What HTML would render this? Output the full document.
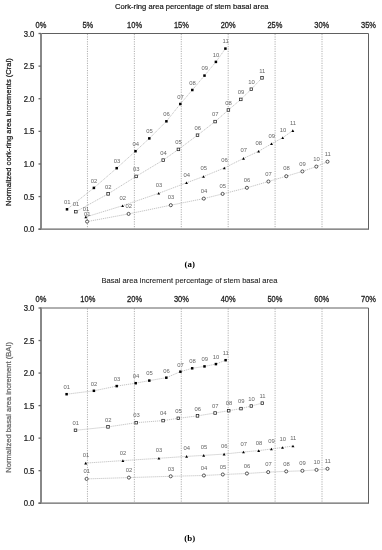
<!DOCTYPE html>
<html><head><meta charset="utf-8"><style>
html,body{margin:0;padding:0;background:#fff;}
body{width:382px;height:550px;overflow:hidden;}
svg{display:block;}
text{font-family:"Liberation Sans",Arial,sans-serif;}
.t{font-size:8.1px;fill:#111;stroke:#111;stroke-width:0.18px;}
.t2{font-size:8.1px;fill:#222;stroke:#222;stroke-width:0.1px;}
.xl{font-size:8.8px;fill:#222;stroke:#222;stroke-width:0.3px;}
.yl{font-size:8.6px;fill:#222;stroke:#222;stroke-width:0.25px;}
.ylab{font-size:7.6px;stroke-width:0.25px;}
.pl{font-size:6.2px;fill:#666;}
.let{font-family:"Liberation Serif",serif;font-weight:bold;font-size:8.9px;fill:#000;}
.g{stroke:#b0b0b0;stroke-width:1;stroke-dasharray:1.2 1.2;}
.fr{stroke:#606060;stroke-width:1;fill:none;}
.ax{stroke:#666;stroke-width:1.3;}
.axl{stroke:#888;stroke-width:2;}
.sl{stroke:#aaa;stroke-width:0.7;stroke-dasharray:1.2 0.8;fill:none;}
</style></head><body>
<svg width="382" height="550" viewBox="0 0 382 550">
<text x="115" y="9.3" class="t" textLength="153.6" lengthAdjust="spacingAndGlyphs">Cork-ring area percentage of stem basal area</text>
<text transform="translate(41 27.7) scale(0.85 1)" class="xl" text-anchor="middle">0%</text>
<text transform="translate(87.79 27.7) scale(0.85 1)" class="xl" text-anchor="middle">5%</text>
<text transform="translate(134.57 27.7) scale(0.85 1)" class="xl" text-anchor="middle">10%</text>
<text transform="translate(181.36 27.7) scale(0.85 1)" class="xl" text-anchor="middle">15%</text>
<text transform="translate(228.14 27.7) scale(0.85 1)" class="xl" text-anchor="middle">20%</text>
<text transform="translate(274.93 27.7) scale(0.85 1)" class="xl" text-anchor="middle">25%</text>
<text transform="translate(321.71 27.7) scale(0.85 1)" class="xl" text-anchor="middle">30%</text>
<text transform="translate(368.5 27.7) scale(0.85 1)" class="xl" text-anchor="middle">35%</text>
<line x1="87.45" y1="34" x2="87.45" y2="228.6" class="g"/>
<line x1="134.36" y1="34" x2="134.36" y2="228.6" class="g"/>
<line x1="181.27" y1="34" x2="181.27" y2="228.6" class="g"/>
<line x1="228.18" y1="34" x2="228.18" y2="228.6" class="g"/>
<line x1="275.09" y1="34" x2="275.09" y2="228.6" class="g"/>
<line x1="322" y1="34" x2="322" y2="228.6" class="g"/>
<path d="M41 33.5H368.5V229.2" class="fr"/>
<line x1="38.5" y1="229.2" x2="369" y2="229.2" class="ax"/>
<line x1="41" y1="33" x2="41" y2="229.2" class="axl"/>
<line x1="38.5" y1="33.5" x2="41" y2="33.5" class="ax"/>
<text transform="translate(34.4 36.6) scale(0.9 1)" class="yl" text-anchor="end">3.0</text>
<line x1="38.5" y1="66.12" x2="41" y2="66.12" class="ax"/>
<text transform="translate(34.4 69.22) scale(0.9 1)" class="yl" text-anchor="end">2.5</text>
<line x1="38.5" y1="98.73" x2="41" y2="98.73" class="ax"/>
<text transform="translate(34.4 101.83) scale(0.9 1)" class="yl" text-anchor="end">2.0</text>
<line x1="38.5" y1="131.35" x2="41" y2="131.35" class="ax"/>
<text transform="translate(34.4 134.45) scale(0.9 1)" class="yl" text-anchor="end">1.5</text>
<line x1="38.5" y1="163.97" x2="41" y2="163.97" class="ax"/>
<text transform="translate(34.4 167.07) scale(0.9 1)" class="yl" text-anchor="end">1.0</text>
<line x1="38.5" y1="196.58" x2="41" y2="196.58" class="ax"/>
<text transform="translate(34.4 199.68) scale(0.9 1)" class="yl" text-anchor="end">0.5</text>
<line x1="38.5" y1="229.2" x2="41" y2="229.2" class="ax"/>
<text transform="translate(34.4 232.3) scale(0.9 1)" class="yl" text-anchor="end">0.0</text>
<text transform="translate(11.0 132.05) rotate(-90)" text-anchor="middle" class="ylab" fill="#1a1a1a" stroke="#1a1a1a">Normalized cork-ring area increments (Crai)</text>
<path d="M67 209.3 L93.9 187.9 L116.7 168.2 L135.5 151.2 L149.3 138.4 L166.4 121.3 L180.3 104 L192.3 90 L204.5 75.6 L215.9 61.9 L225.4 48.6" class="sl"/>
<path d="M75.9 211.7 L108.1 193.9 L136.1 176.4 L163.2 160.1 L178.4 149.4 L197.5 135.2 L215.1 121.6 L228.4 110 L240.8 99.4 L251.3 89.2 L262 77.9" class="sl"/>
<path d="M85.8 217 L122.6 205.7 L158.7 193.3 L186.5 182.8 L203.5 176.5 L224.3 168 L243.5 158.4 L258.6 151.3 L271.5 143.8 L282.7 137.7 L292.8 130.6" class="sl"/>
<path d="M87.1 221.6 L128.6 213.9 L170.8 205.2 L203.8 198.6 L222.6 193.9 L246.9 187.8 L268.4 181.5 L286.3 176.2 L302.4 171.4 L316.3 166.6 L327.5 161.7" class="sl"/>
<rect x="65.75" y="208.05" width="2.5" height="2.5" fill="#000"/>
<text transform="translate(67.2 204.1) scale(0.95 1)" class="pl" text-anchor="middle">01</text>
<rect x="92.65" y="186.65" width="2.5" height="2.5" fill="#000"/>
<text transform="translate(94.1 182.7) scale(0.95 1)" class="pl" text-anchor="middle">02</text>
<rect x="115.45" y="166.95" width="2.5" height="2.5" fill="#000"/>
<text transform="translate(116.9 163) scale(0.95 1)" class="pl" text-anchor="middle">03</text>
<rect x="134.25" y="149.95" width="2.5" height="2.5" fill="#000"/>
<text transform="translate(135.7 146) scale(0.95 1)" class="pl" text-anchor="middle">04</text>
<rect x="148.05" y="137.15" width="2.5" height="2.5" fill="#000"/>
<text transform="translate(149.5 133.2) scale(0.95 1)" class="pl" text-anchor="middle">05</text>
<rect x="165.15" y="120.05" width="2.5" height="2.5" fill="#000"/>
<text transform="translate(166.6 116.1) scale(0.95 1)" class="pl" text-anchor="middle">06</text>
<rect x="179.05" y="102.75" width="2.5" height="2.5" fill="#000"/>
<text transform="translate(180.5 98.8) scale(0.95 1)" class="pl" text-anchor="middle">07</text>
<rect x="191.05" y="88.75" width="2.5" height="2.5" fill="#000"/>
<text transform="translate(192.5 84.8) scale(0.95 1)" class="pl" text-anchor="middle">08</text>
<rect x="203.25" y="74.35" width="2.5" height="2.5" fill="#000"/>
<text transform="translate(204.7 70.4) scale(0.95 1)" class="pl" text-anchor="middle">09</text>
<rect x="214.65" y="60.65" width="2.5" height="2.5" fill="#000"/>
<text transform="translate(216.1 56.7) scale(0.95 1)" class="pl" text-anchor="middle">10</text>
<rect x="224.15" y="47.35" width="2.5" height="2.5" fill="#000"/>
<text transform="translate(225.6 43.4) scale(0.95 1)" class="pl" text-anchor="middle">11</text>
<rect x="74.62" y="210.42" width="2.55" height="2.55" fill="#fff" stroke="#222" stroke-width="0.75"/>
<text transform="translate(76.1 206.4) scale(0.95 1)" class="pl" text-anchor="middle">01</text>
<rect x="106.82" y="192.62" width="2.55" height="2.55" fill="#fff" stroke="#222" stroke-width="0.75"/>
<text transform="translate(108.3 188.6) scale(0.95 1)" class="pl" text-anchor="middle">02</text>
<rect x="134.82" y="175.12" width="2.55" height="2.55" fill="#fff" stroke="#222" stroke-width="0.75"/>
<text transform="translate(136.3 171.1) scale(0.95 1)" class="pl" text-anchor="middle">03</text>
<rect x="161.92" y="158.82" width="2.55" height="2.55" fill="#fff" stroke="#222" stroke-width="0.75"/>
<text transform="translate(163.4 154.8) scale(0.95 1)" class="pl" text-anchor="middle">04</text>
<rect x="177.12" y="148.12" width="2.55" height="2.55" fill="#fff" stroke="#222" stroke-width="0.75"/>
<text transform="translate(178.6 144.1) scale(0.95 1)" class="pl" text-anchor="middle">05</text>
<rect x="196.22" y="133.92" width="2.55" height="2.55" fill="#fff" stroke="#222" stroke-width="0.75"/>
<text transform="translate(197.7 129.9) scale(0.95 1)" class="pl" text-anchor="middle">06</text>
<rect x="213.82" y="120.32" width="2.55" height="2.55" fill="#fff" stroke="#222" stroke-width="0.75"/>
<text transform="translate(215.3 116.3) scale(0.95 1)" class="pl" text-anchor="middle">07</text>
<rect x="227.12" y="108.72" width="2.55" height="2.55" fill="#fff" stroke="#222" stroke-width="0.75"/>
<text transform="translate(228.6 104.7) scale(0.95 1)" class="pl" text-anchor="middle">08</text>
<rect x="239.53" y="98.12" width="2.55" height="2.55" fill="#fff" stroke="#222" stroke-width="0.75"/>
<text transform="translate(241 94.1) scale(0.95 1)" class="pl" text-anchor="middle">09</text>
<rect x="250.03" y="87.92" width="2.55" height="2.55" fill="#fff" stroke="#222" stroke-width="0.75"/>
<text transform="translate(251.5 83.9) scale(0.95 1)" class="pl" text-anchor="middle">10</text>
<rect x="260.73" y="76.62" width="2.55" height="2.55" fill="#fff" stroke="#222" stroke-width="0.75"/>
<text transform="translate(262.2 72.6) scale(0.95 1)" class="pl" text-anchor="middle">11</text>
<path d="M85.8 215.7L87.25 218.3L84.35 218.3Z" fill="#000"/>
<text transform="translate(86 210.9) scale(0.95 1)" class="pl" text-anchor="middle">01</text>
<path d="M122.6 204.4L124.05 207L121.15 207Z" fill="#000"/>
<text transform="translate(122.8 199.6) scale(0.95 1)" class="pl" text-anchor="middle">02</text>
<path d="M158.7 192L160.15 194.6L157.25 194.6Z" fill="#000"/>
<text transform="translate(158.9 187.2) scale(0.95 1)" class="pl" text-anchor="middle">03</text>
<path d="M186.5 181.5L187.95 184.1L185.05 184.1Z" fill="#000"/>
<text transform="translate(186.7 176.7) scale(0.95 1)" class="pl" text-anchor="middle">04</text>
<path d="M203.5 175.2L204.95 177.8L202.05 177.8Z" fill="#000"/>
<text transform="translate(203.7 170.4) scale(0.95 1)" class="pl" text-anchor="middle">05</text>
<path d="M224.3 166.7L225.75 169.3L222.85 169.3Z" fill="#000"/>
<text transform="translate(224.5 161.9) scale(0.95 1)" class="pl" text-anchor="middle">06</text>
<path d="M243.5 157.1L244.95 159.7L242.05 159.7Z" fill="#000"/>
<text transform="translate(243.7 152.3) scale(0.95 1)" class="pl" text-anchor="middle">07</text>
<path d="M258.6 150L260.05 152.6L257.15 152.6Z" fill="#000"/>
<text transform="translate(258.8 145.2) scale(0.95 1)" class="pl" text-anchor="middle">08</text>
<path d="M271.5 142.5L272.95 145.1L270.05 145.1Z" fill="#000"/>
<text transform="translate(271.7 137.7) scale(0.95 1)" class="pl" text-anchor="middle">09</text>
<path d="M282.7 136.4L284.15 139L281.25 139Z" fill="#000"/>
<text transform="translate(282.9 131.6) scale(0.95 1)" class="pl" text-anchor="middle">10</text>
<path d="M292.8 129.3L294.25 131.9L291.35 131.9Z" fill="#000"/>
<text transform="translate(293 124.5) scale(0.95 1)" class="pl" text-anchor="middle">11</text>
<circle cx="87.1" cy="221.6" r="1.55" fill="#fff" stroke="#222" stroke-width="0.75"/>
<text transform="translate(87.3 215.8) scale(0.95 1)" class="pl" text-anchor="middle">01</text>
<circle cx="128.6" cy="213.9" r="1.55" fill="#fff" stroke="#222" stroke-width="0.75"/>
<text transform="translate(128.8 208.1) scale(0.95 1)" class="pl" text-anchor="middle">02</text>
<circle cx="170.8" cy="205.2" r="1.55" fill="#fff" stroke="#222" stroke-width="0.75"/>
<text transform="translate(171 199.4) scale(0.95 1)" class="pl" text-anchor="middle">03</text>
<circle cx="203.8" cy="198.6" r="1.55" fill="#fff" stroke="#222" stroke-width="0.75"/>
<text transform="translate(204 192.8) scale(0.95 1)" class="pl" text-anchor="middle">04</text>
<circle cx="222.6" cy="193.9" r="1.55" fill="#fff" stroke="#222" stroke-width="0.75"/>
<text transform="translate(222.8 188.1) scale(0.95 1)" class="pl" text-anchor="middle">05</text>
<circle cx="246.9" cy="187.8" r="1.55" fill="#fff" stroke="#222" stroke-width="0.75"/>
<text transform="translate(247.1 182) scale(0.95 1)" class="pl" text-anchor="middle">06</text>
<circle cx="268.4" cy="181.5" r="1.55" fill="#fff" stroke="#222" stroke-width="0.75"/>
<text transform="translate(268.6 175.7) scale(0.95 1)" class="pl" text-anchor="middle">07</text>
<circle cx="286.3" cy="176.2" r="1.55" fill="#fff" stroke="#222" stroke-width="0.75"/>
<text transform="translate(286.5 170.4) scale(0.95 1)" class="pl" text-anchor="middle">08</text>
<circle cx="302.4" cy="171.4" r="1.55" fill="#fff" stroke="#222" stroke-width="0.75"/>
<text transform="translate(302.6 165.6) scale(0.95 1)" class="pl" text-anchor="middle">09</text>
<circle cx="316.3" cy="166.6" r="1.55" fill="#fff" stroke="#222" stroke-width="0.75"/>
<text transform="translate(316.5 160.8) scale(0.95 1)" class="pl" text-anchor="middle">10</text>
<circle cx="327.5" cy="161.7" r="1.55" fill="#fff" stroke="#222" stroke-width="0.75"/>
<text transform="translate(327.7 155.9) scale(0.95 1)" class="pl" text-anchor="middle">11</text>
<text x="189.8" y="266.8" class="let" text-anchor="middle">(a)</text>
<text x="101.5" y="283.1" class="t2" textLength="176" lengthAdjust="spacingAndGlyphs">Basal area increment percentage of stem basal area</text>
<text transform="translate(41 302.2) scale(0.85 1)" class="xl" text-anchor="middle">0%</text>
<text transform="translate(87.79 302.2) scale(0.85 1)" class="xl" text-anchor="middle">10%</text>
<text transform="translate(134.57 302.2) scale(0.85 1)" class="xl" text-anchor="middle">20%</text>
<text transform="translate(181.36 302.2) scale(0.85 1)" class="xl" text-anchor="middle">30%</text>
<text transform="translate(228.14 302.2) scale(0.85 1)" class="xl" text-anchor="middle">40%</text>
<text transform="translate(274.93 302.2) scale(0.85 1)" class="xl" text-anchor="middle">50%</text>
<text transform="translate(321.71 302.2) scale(0.85 1)" class="xl" text-anchor="middle">60%</text>
<text transform="translate(368.5 302.2) scale(0.85 1)" class="xl" text-anchor="middle">70%</text>
<line x1="87.45" y1="308.5" x2="87.45" y2="502.6" class="g"/>
<line x1="134.36" y1="308.5" x2="134.36" y2="502.6" class="g"/>
<line x1="181.27" y1="308.5" x2="181.27" y2="502.6" class="g"/>
<line x1="228.18" y1="308.5" x2="228.18" y2="502.6" class="g"/>
<line x1="275.09" y1="308.5" x2="275.09" y2="502.6" class="g"/>
<line x1="322" y1="308.5" x2="322" y2="502.6" class="g"/>
<path d="M41 308H368.5V503.2" class="fr"/>
<line x1="38.5" y1="503.2" x2="369" y2="503.2" class="ax"/>
<line x1="41" y1="307.5" x2="41" y2="503.2" class="axl"/>
<line x1="38.5" y1="308" x2="41" y2="308" class="ax"/>
<text transform="translate(34.4 311.1) scale(0.9 1)" class="yl" text-anchor="end">3.0</text>
<line x1="38.5" y1="340.53" x2="41" y2="340.53" class="ax"/>
<text transform="translate(34.4 343.63) scale(0.9 1)" class="yl" text-anchor="end">2.5</text>
<line x1="38.5" y1="373.07" x2="41" y2="373.07" class="ax"/>
<text transform="translate(34.4 376.17) scale(0.9 1)" class="yl" text-anchor="end">2.0</text>
<line x1="38.5" y1="405.6" x2="41" y2="405.6" class="ax"/>
<text transform="translate(34.4 408.7) scale(0.9 1)" class="yl" text-anchor="end">1.5</text>
<line x1="38.5" y1="438.13" x2="41" y2="438.13" class="ax"/>
<text transform="translate(34.4 441.23) scale(0.9 1)" class="yl" text-anchor="end">1.0</text>
<line x1="38.5" y1="470.67" x2="41" y2="470.67" class="ax"/>
<text transform="translate(34.4 473.77) scale(0.9 1)" class="yl" text-anchor="end">0.5</text>
<line x1="38.5" y1="503.2" x2="41" y2="503.2" class="ax"/>
<text transform="translate(34.4 506.3) scale(0.9 1)" class="yl" text-anchor="end">0.0</text>
<text transform="translate(11.0 407.35) rotate(-90)" text-anchor="middle" class="ylab" fill="#6a6a6a" stroke="#6a6a6a">Normalized basal area increment (BAI)</text>
<path d="M66.6 394.2 L93.9 390.8 L116.7 386.1 L135.7 383.2 L149.3 380.6 L166.3 377.7 L180.4 371.7 L192.2 368.3 L204.5 366.4 L215.9 364.1 L225.6 360.2" class="sl"/>
<path d="M75.5 430.3 L108 426.9 L136.2 422.7 L163.1 420.6 L178.3 418.3 L197.5 415.9 L215.1 413 L228.7 410.7 L241 408.6 L251.3 406 L262.3 403.1" class="sl"/>
<path d="M85.7 463.1 L122.9 460.6 L158.9 458.3 L186.6 456.4 L203.7 455.4 L224.1 454.1 L243.5 452 L258.7 450.6 L271.4 449 L282.5 447.5 L293 446" class="sl"/>
<path d="M86.6 478.9 L128.9 477.6 L170.7 476.3 L203.9 475.5 L222.8 474.5 L246.9 473.5 L268.2 472.1 L286.2 471.4 L302.4 470.8 L316.5 469.9 L327.5 468.8" class="sl"/>
<rect x="65.35" y="392.95" width="2.5" height="2.5" fill="#000"/>
<text transform="translate(66.8 389) scale(0.95 1)" class="pl" text-anchor="middle">01</text>
<rect x="92.65" y="389.55" width="2.5" height="2.5" fill="#000"/>
<text transform="translate(94.1 385.6) scale(0.95 1)" class="pl" text-anchor="middle">02</text>
<rect x="115.45" y="384.85" width="2.5" height="2.5" fill="#000"/>
<text transform="translate(116.9 380.9) scale(0.95 1)" class="pl" text-anchor="middle">03</text>
<rect x="134.45" y="381.95" width="2.5" height="2.5" fill="#000"/>
<text transform="translate(135.9 378) scale(0.95 1)" class="pl" text-anchor="middle">04</text>
<rect x="148.05" y="379.35" width="2.5" height="2.5" fill="#000"/>
<text transform="translate(149.5 375.4) scale(0.95 1)" class="pl" text-anchor="middle">05</text>
<rect x="165.05" y="376.45" width="2.5" height="2.5" fill="#000"/>
<text transform="translate(166.5 372.5) scale(0.95 1)" class="pl" text-anchor="middle">06</text>
<rect x="179.15" y="370.45" width="2.5" height="2.5" fill="#000"/>
<text transform="translate(180.6 366.5) scale(0.95 1)" class="pl" text-anchor="middle">07</text>
<rect x="190.95" y="367.05" width="2.5" height="2.5" fill="#000"/>
<text transform="translate(192.4 363.1) scale(0.95 1)" class="pl" text-anchor="middle">08</text>
<rect x="203.25" y="365.15" width="2.5" height="2.5" fill="#000"/>
<text transform="translate(204.7 361.2) scale(0.95 1)" class="pl" text-anchor="middle">09</text>
<rect x="214.65" y="362.85" width="2.5" height="2.5" fill="#000"/>
<text transform="translate(216.1 358.9) scale(0.95 1)" class="pl" text-anchor="middle">10</text>
<rect x="224.35" y="358.95" width="2.5" height="2.5" fill="#000"/>
<text transform="translate(225.8 355) scale(0.95 1)" class="pl" text-anchor="middle">11</text>
<rect x="74.22" y="429.03" width="2.55" height="2.55" fill="#fff" stroke="#222" stroke-width="0.75"/>
<text transform="translate(75.7 425) scale(0.95 1)" class="pl" text-anchor="middle">01</text>
<rect x="106.72" y="425.62" width="2.55" height="2.55" fill="#fff" stroke="#222" stroke-width="0.75"/>
<text transform="translate(108.2 421.6) scale(0.95 1)" class="pl" text-anchor="middle">02</text>
<rect x="134.92" y="421.43" width="2.55" height="2.55" fill="#fff" stroke="#222" stroke-width="0.75"/>
<text transform="translate(136.4 417.4) scale(0.95 1)" class="pl" text-anchor="middle">03</text>
<rect x="161.82" y="419.33" width="2.55" height="2.55" fill="#fff" stroke="#222" stroke-width="0.75"/>
<text transform="translate(163.3 415.3) scale(0.95 1)" class="pl" text-anchor="middle">04</text>
<rect x="177.03" y="417.03" width="2.55" height="2.55" fill="#fff" stroke="#222" stroke-width="0.75"/>
<text transform="translate(178.5 413) scale(0.95 1)" class="pl" text-anchor="middle">05</text>
<rect x="196.22" y="414.62" width="2.55" height="2.55" fill="#fff" stroke="#222" stroke-width="0.75"/>
<text transform="translate(197.7 410.6) scale(0.95 1)" class="pl" text-anchor="middle">06</text>
<rect x="213.82" y="411.73" width="2.55" height="2.55" fill="#fff" stroke="#222" stroke-width="0.75"/>
<text transform="translate(215.3 407.7) scale(0.95 1)" class="pl" text-anchor="middle">07</text>
<rect x="227.42" y="409.43" width="2.55" height="2.55" fill="#fff" stroke="#222" stroke-width="0.75"/>
<text transform="translate(228.9 405.4) scale(0.95 1)" class="pl" text-anchor="middle">08</text>
<rect x="239.72" y="407.33" width="2.55" height="2.55" fill="#fff" stroke="#222" stroke-width="0.75"/>
<text transform="translate(241.2 403.3) scale(0.95 1)" class="pl" text-anchor="middle">09</text>
<rect x="250.03" y="404.73" width="2.55" height="2.55" fill="#fff" stroke="#222" stroke-width="0.75"/>
<text transform="translate(251.5 400.7) scale(0.95 1)" class="pl" text-anchor="middle">10</text>
<rect x="261.03" y="401.83" width="2.55" height="2.55" fill="#fff" stroke="#222" stroke-width="0.75"/>
<text transform="translate(262.5 397.8) scale(0.95 1)" class="pl" text-anchor="middle">11</text>
<path d="M85.7 461.8L87.15 464.4L84.25 464.4Z" fill="#000"/>
<text transform="translate(85.9 457) scale(0.95 1)" class="pl" text-anchor="middle">01</text>
<path d="M122.9 459.3L124.35 461.9L121.45 461.9Z" fill="#000"/>
<text transform="translate(123.1 454.5) scale(0.95 1)" class="pl" text-anchor="middle">02</text>
<path d="M158.9 457L160.35 459.6L157.45 459.6Z" fill="#000"/>
<text transform="translate(159.1 452.2) scale(0.95 1)" class="pl" text-anchor="middle">03</text>
<path d="M186.6 455.1L188.05 457.7L185.15 457.7Z" fill="#000"/>
<text transform="translate(186.8 450.3) scale(0.95 1)" class="pl" text-anchor="middle">04</text>
<path d="M203.7 454.1L205.15 456.7L202.25 456.7Z" fill="#000"/>
<text transform="translate(203.9 449.3) scale(0.95 1)" class="pl" text-anchor="middle">05</text>
<path d="M224.1 452.8L225.55 455.4L222.65 455.4Z" fill="#000"/>
<text transform="translate(224.3 448) scale(0.95 1)" class="pl" text-anchor="middle">06</text>
<path d="M243.5 450.7L244.95 453.3L242.05 453.3Z" fill="#000"/>
<text transform="translate(243.7 445.9) scale(0.95 1)" class="pl" text-anchor="middle">07</text>
<path d="M258.7 449.3L260.15 451.9L257.25 451.9Z" fill="#000"/>
<text transform="translate(258.9 444.5) scale(0.95 1)" class="pl" text-anchor="middle">08</text>
<path d="M271.4 447.7L272.85 450.3L269.95 450.3Z" fill="#000"/>
<text transform="translate(271.6 442.9) scale(0.95 1)" class="pl" text-anchor="middle">09</text>
<path d="M282.5 446.2L283.95 448.8L281.05 448.8Z" fill="#000"/>
<text transform="translate(282.7 441.4) scale(0.95 1)" class="pl" text-anchor="middle">10</text>
<path d="M293 444.7L294.45 447.3L291.55 447.3Z" fill="#000"/>
<text transform="translate(293.2 439.9) scale(0.95 1)" class="pl" text-anchor="middle">11</text>
<circle cx="86.6" cy="478.9" r="1.55" fill="#fff" stroke="#222" stroke-width="0.75"/>
<text transform="translate(86.8 473.1) scale(0.95 1)" class="pl" text-anchor="middle">01</text>
<circle cx="128.9" cy="477.6" r="1.55" fill="#fff" stroke="#222" stroke-width="0.75"/>
<text transform="translate(129.1 471.8) scale(0.95 1)" class="pl" text-anchor="middle">02</text>
<circle cx="170.7" cy="476.3" r="1.55" fill="#fff" stroke="#222" stroke-width="0.75"/>
<text transform="translate(170.9 470.5) scale(0.95 1)" class="pl" text-anchor="middle">03</text>
<circle cx="203.9" cy="475.5" r="1.55" fill="#fff" stroke="#222" stroke-width="0.75"/>
<text transform="translate(204.1 469.7) scale(0.95 1)" class="pl" text-anchor="middle">04</text>
<circle cx="222.8" cy="474.5" r="1.55" fill="#fff" stroke="#222" stroke-width="0.75"/>
<text transform="translate(223 468.7) scale(0.95 1)" class="pl" text-anchor="middle">05</text>
<circle cx="246.9" cy="473.5" r="1.55" fill="#fff" stroke="#222" stroke-width="0.75"/>
<text transform="translate(247.1 467.7) scale(0.95 1)" class="pl" text-anchor="middle">06</text>
<circle cx="268.2" cy="472.1" r="1.55" fill="#fff" stroke="#222" stroke-width="0.75"/>
<text transform="translate(268.4 466.3) scale(0.95 1)" class="pl" text-anchor="middle">07</text>
<circle cx="286.2" cy="471.4" r="1.55" fill="#fff" stroke="#222" stroke-width="0.75"/>
<text transform="translate(286.4 465.6) scale(0.95 1)" class="pl" text-anchor="middle">08</text>
<circle cx="302.4" cy="470.8" r="1.55" fill="#fff" stroke="#222" stroke-width="0.75"/>
<text transform="translate(302.6 465) scale(0.95 1)" class="pl" text-anchor="middle">09</text>
<circle cx="316.5" cy="469.9" r="1.55" fill="#fff" stroke="#222" stroke-width="0.75"/>
<text transform="translate(316.7 464.1) scale(0.95 1)" class="pl" text-anchor="middle">10</text>
<circle cx="327.5" cy="468.8" r="1.55" fill="#fff" stroke="#222" stroke-width="0.75"/>
<text transform="translate(327.7 463) scale(0.95 1)" class="pl" text-anchor="middle">11</text>
<text x="189.8" y="541" class="let" text-anchor="middle">(b)</text>
</svg>
</body></html>
